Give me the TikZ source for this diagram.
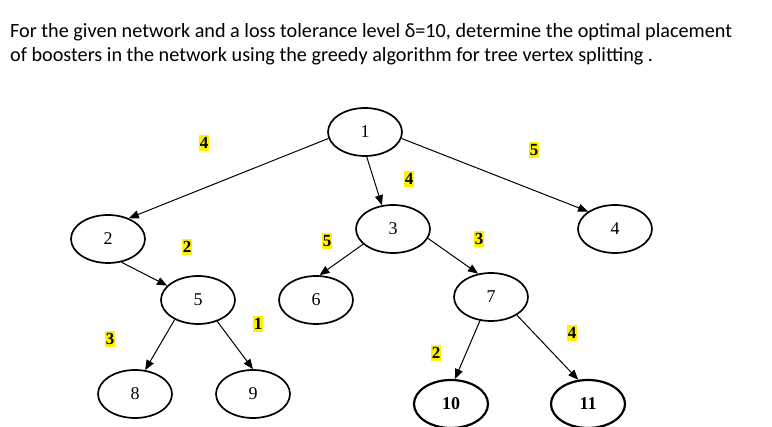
\documentclass[tikz,border=0pt]{standalone}
\usepackage{fontspec}
\setmainfont{Liberation Serif}
\newfontfamily\titlefont{Carlito}
\usetikzlibrary{shapes.geometric,arrows.meta}
\tikzset{
  vert/.style={ellipse,draw,line width=1.7pt,minimum width=74pt,minimum height=48pt,inner sep=0pt,font=\fontsize{18}{18}\selectfont},
  bvert/.style={vert,line width=2.2pt,font=\fontsize{18}{18}\selectfont\bfseries},
  edge/.style={line width=1pt,-{Triangle[length=10pt,width=8pt]}},
  wlab/.style={fill=yellow,inner xsep=1pt,inner ysep=2.5pt,font=\fontsize{17}{17}\selectfont\bfseries},
  title/.style={anchor=base west,inner sep=0pt,font=\titlefont\fontsize{20.2}{20.2}\selectfont}
}
\begin{document}
\begin{tikzpicture}[x=1pt,y=-1pt]
\useasboundingbox (0,0) rectangle (772,427);
\node[title] (t1) at (10,38) {For the given network and a loss tolerance level δ=10, determine the optimal placement};
\node[title] (t2) at (10,62) {of boosters in the network using the greedy algorithm for tree vertex splitting .};

\node[vert] (n1) at (365,132) {1};
\node[vert] (n2) at (108,239) {2};
\node[vert] (n3) at (393,229) {3};
\node[vert] (n4) at (615,229) {4};
\node[vert] (n5) at (198,300) {5};
\node[vert] (n6) at (316,300) {6};
\node[vert] (n7) at (491,297) {7};
\node[vert] (n8) at (135,394) {8};
\node[vert] (n9) at (253,394) {9};
\node[bvert] (n10) at (451,404) {10};
\node[bvert] (n11) at (588,404) {11};

\draw[edge] (n1.190) -- (n2.45);
\draw[edge] (n1.274) -- (n3.115);
\draw[edge] (n1.350) -- (n4.147);
\draw[edge] (n2.300) -- (n5.155);
\draw[edge] (n3.207) -- (n6.82);
\draw[edge] (n3.345) -- (n7.119);
\draw[edge] (n5.220) -- (n8.67);
\draw[edge] (n5.312) -- (n9.90);
\draw[edge] (n7.245) -- (n10.81);
\draw[edge] (n7.325) -- (n11.112);

\node[wlab] (w12) at (204,143) {4};
\node[wlab] (w13) at (409,179) {4};
\node[wlab] (w14) at (534,150) {5};
\node[wlab] (w25) at (187,247) {2};
\node[wlab] (w36) at (327,241) {5};
\node[wlab] (w37) at (479,239) {3};
\node[wlab] (w59) at (258,324) {1};
\node[wlab] (w58) at (110,339) {3};
\node[wlab] (w710) at (436,353) {2};
\node[wlab] (w711) at (572,333) {4};
\end{tikzpicture}
\end{document}
